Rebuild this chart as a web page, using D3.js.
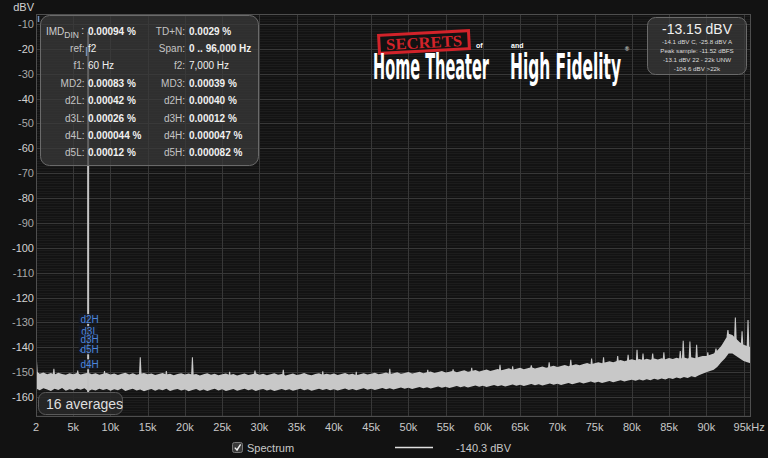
<!DOCTYPE html>
<html><head><meta charset="utf-8">
<script src="https://cdn.jsdelivr.net/npm/d3@7/dist/d3.min.js"></script>
<style>
html,body{margin:0;padding:0;background:#121212;}
svg{display:block;font-family:"Liberation Sans",Arial,sans-serif;}
</style></head>
<body>
<svg id="chart" width="768" height="458"></svg>
<script>
// ---------- DATA ----------
const xTicksKHz = [0,5,10,15,20,25,30,35,40,45,50,55,60,65,70,75,80,85,90,95];
const xTickLabels = ["2","5k","10k","15k","20k","25k","30k","35k","40k","45k","50k","55k","60k","65k","70k","75k","80k","85k","90k","95kHz"];
const yTicks = [-10,-20,-30,-40,-50,-60,-70,-80,-90,-100,-110,-120,-130,-140,-150,-160];

// spectrum envelope sampled every 0.5 kHz from 0 to 96 kHz
const stepKHz = 0.5;
const bandTopDb = [
 -149.5,-150.6,-150.1,-150.8,-150.3,-150.9,-150.2,-150.7,-151.0,-150.4,-150.8,-150.3,-150.9,-150.5,-150.2,-150.8,-150.4,-151.0,-150.6,-150.3,
 -150.9,-150.5,-151.1,-150.6,-150.2,-150.9,-150.4,-151.0,-150.6,-150.3,-150.8,-150.5,-151.1,-150.7,-150.3,-150.9,-150.6,-151.2,-150.7,-150.4,
 -150.9,-150.5,-151.0,-150.7,-151.3,-150.8,-150.4,-151.0,-150.6,-151.2,-150.8,-150.5,-151.1,-150.7,-151.3,-150.9,-150.5,-151.1,-150.8,-150.4,
 -151.0,-150.6,-151.2,-150.8,-150.4,-151.0,-150.7,-151.3,-150.9,-150.5,-151.1,-150.8,-150.3,-150.9,-151.2,-150.7,-150.4,-151.0,-150.6,-150.9,
 -150.5,-151.1,-150.7,-150.3,-150.9,-150.6,-151.2,-150.8,-150.4,-150.9,-150.6,-150.2,-150.8,-150.5,-150.1,-150.7,-150.4,-150.0,-150.6,-150.3,
 -149.9,-150.5,-150.2,-149.8,-150.4,-150.0,-149.7,-150.3,-149.9,-149.5,-150.1,-149.8,-149.4,-150.0,-149.6,-149.2,-149.8,-149.5,-149.1,-149.7,
 -149.3,-148.9,-149.5,-149.1,-148.7,-149.2,-148.8,-148.4,-149.0,-148.6,-148.2,-148.8,-148.4,-148.0,-148.5,-148.1,-147.7,-148.2,-147.8,-147.4,
 -147.9,-147.5,-147.1,-147.6,-147.2,-146.8,-147.2,-146.7,-146.3,-146.8,-146.4,-146.0,-146.4,-146.0,-145.6,-146.0,-145.5,-145.1,-145.6,-145.2,
 -144.8,-145.2,-144.7,-145.1,-144.6,-145.0,-144.5,-144.9,-144.4,-144.8,-144.3,-144.7,-144.2,-144.6,-144.1,-144.5,-144.0,-144.4,-143.9,-143.5,
 -143.5,-143.0,-142.5,-141.2,-139.5,-137.0,-134.5,-135.0,-136.5,-138.0,-139.0,-139.5,-140.0
];
const bandBottomDb = [
 -156.5,-157.2,-156.4,-156.9,-157.5,-156.6,-157.1,-156.3,-157.4,-156.8,-157.2,-156.5,-157.0,-156.4,-157.6,-156.9,-157.3,-156.6,-157.1,-156.7,
 -157.4,-156.8,-157.2,-156.5,-157.5,-157.0,-156.6,-157.3,-156.9,-157.6,-157.1,-156.7,-157.4,-156.8,-157.2,-156.6,-157.5,-157.0,-156.7,-157.3,
 -156.9,-157.6,-157.1,-156.7,-157.4,-156.9,-157.5,-157.0,-156.6,-157.3,-156.8,-157.5,-157.1,-156.7,-157.4,-157.0,-156.6,-157.2,-156.8,-157.5,
 -157.0,-156.7,-157.3,-156.9,-157.5,-157.1,-156.7,-157.2,-156.8,-157.4,-157.0,-156.6,-157.2,-156.8,-157.4,-157.0,-156.6,-157.1,-156.7,-157.2,
 -156.8,-157.3,-156.9,-156.5,-157.1,-156.7,-157.2,-156.8,-156.4,-157.0,-156.6,-157.1,-156.7,-156.3,-156.8,-156.4,-156.9,-156.5,-156.1,-156.6,
 -156.2,-156.7,-156.3,-155.9,-156.4,-156.0,-156.5,-156.1,-155.7,-156.2,-155.8,-156.3,-155.9,-155.5,-156.0,-155.6,-156.1,-155.7,-155.3,-155.8,
 -155.4,-155.9,-155.5,-155.1,-155.6,-155.2,-155.7,-155.3,-154.9,-155.4,-155.0,-155.5,-155.1,-154.7,-155.2,-154.8,-155.3,-154.9,-154.5,-155.0,
 -154.6,-155.1,-154.7,-154.3,-154.8,-154.4,-154.0,-154.5,-154.1,-153.7,-154.2,-153.8,-154.3,-153.9,-153.5,-154.0,-153.6,-153.2,-153.7,-153.3,
 -153.0,-153.4,-152.9,-153.3,-152.8,-153.2,-152.6,-153.0,-152.5,-152.9,-152.3,-152.7,-152.1,-152.5,-151.9,-152.3,-151.6,-152.0,-151.2,-150.6,
 -150.0,-149.5,-149.0,-147.8,-146.0,-144.5,-142.5,-142.5,-143.5,-144.5,-145.5,-146.0,-146.5
];
// discrete spurs poking out of the noise
const spurKHz = [0.06,2.4,5.6,9.2,14.0,17.5,21.0,26.0,29.4,33.2,38.5,43.0,47.5,52.6,56.0,58.5,62.3,64.0,66.5,68.9,71.8,74.6,76.2,78.1,79.5,80.7,81.5,82.8,84.3,86.5,86.9,87.8,88.7,90.2,91.3,92.9,93.9,94.8,95.6];
const spurDb  = [-145.3,-148.6,-149.3,-149.5,-144.0,-149.5,-144.0,-149.8,-149.3,-149.0,-149.6,-149.8,-148.6,-149.0,-148.8,-148.2,-147.0,-147.6,-147.2,-146.0,-145.0,-144.5,-144.0,-143.5,-143.0,-141.0,-142.5,-142.5,-142.0,-141.5,-137.3,-137.7,-139.0,-142.0,-140.5,-133.0,-128.0,-133.5,-129.0];
// fundamental f2
const fundKHz = 7.0;
const fundDb = -13.15;
// harmonic marker labels
const markerNames = ["d2H","d3L","d3H","d5H","d4H"];
const markerDb = [-128.6,-133.4,-136.8,-140.8,-146.8];

// info panel
const leftLabels  = ["","ref:","f1:","MD2:","d2L:","d3L:","d4L:","d5L:"];
const leftValues  = ["0.00094 %","f2","60 Hz","0.00083 %","0.00042 %","0.00026 %","0.000044 %","0.00012 %"];
const rightLabels = ["TD+N:","Span:","f2:","MD3:","d2H:","d3H:","d4H:","d5H:"];
const rightValues = ["0.0029 %","0 .. 96,000 Hz","7,000 Hz","0.00039 %","0.00040 %","0.00012 %","0.000047 %","0.000082 %"];
const leftBold  = [true,false,false,true,true,true,true,true];
const rightBold = [true,true,false,true,true,true,true,true];
// level panel
const levelMain = "-13.15 dBV";
const levelLines = ["-14.1 dBV C, -25.8 dBV A","Peak sample: -11.52 dBFS","-13.1 dBV 22 - 22k UNW","-104.6 dBV >22k"];
const averagesText = "16 averages";
const legendSeries = "Spectrum";
const legendValue = "-140.3 dBV";

// ---------- LAYOUT ----------
const svg = d3.select("#chart");
const W = 768, H = 458;
const plot = {l:36, r:751, t:14, b:417};
const x = d3.scaleLinear().domain([0,96]).range([plot.l, plot.r]);
const y = d3.scaleLinear().domain([-168,-6]).range([plot.b, plot.t]);

svg.append("rect").attr("width",W).attr("height",H).attr("fill","#121212");
svg.append("rect").attr("x",plot.l).attr("y",plot.t).attr("width",plot.r-plot.l).attr("height",plot.b-plot.t).attr("fill","#131313");

svg.append("defs").append("clipPath").attr("id","clip").append("rect")
  .attr("x",plot.l).attr("y",plot.t).attr("width",plot.r-plot.l).attr("height",plot.b-plot.t);

// minor horizontal grid (1 dB)
const gGrid = svg.append("g");
gGrid.selectAll("line.minor").data(d3.range(-167,-6,1).filter(v=>v%10!==0)).join("line")
  .attr("x1",plot.l).attr("x2",plot.r).attr("y1",d=>Math.round(y(d))+0.5).attr("y2",d=>Math.round(y(d))+0.5)
  .attr("stroke","#1c1c1c").attr("stroke-width",1);
// major horizontal
gGrid.selectAll("line.hmaj").data(yTicks).join("line")
  .attr("x1",plot.l).attr("x2",plot.r).attr("y1",d=>Math.round(y(d))+0.5).attr("y2",d=>Math.round(y(d))+0.5)
  .attr("stroke","#383838").attr("stroke-width",1);
// vertical
svg.append("g").selectAll("line").data(xTicksKHz).join("line")
  .attr("x1",d=>Math.round(x(d))+0.5).attr("x2",d=>Math.round(x(d))+0.5).attr("y1",plot.t).attr("y2",plot.b)
  .attr("stroke","#383838").attr("stroke-width",1);

// spectrum
const gSpec = svg.append("g").attr("clip-path","url(#clip)");
const specData = bandTopDb.map((t,i)=>({f:i*stepKHz, top:t, bot:bandBottomDb[i]}));
const area = d3.area().x(d=>x(d.f)).y0(d=>y(d.bot)).y1(d=>y(d.top)).curve(d3.curveLinear);
gSpec.append("path").datum(specData).attr("d",area).attr("fill","#c8c8c8");
// spurs
gSpec.selectAll("path.spur").data(spurKHz).join("path")
  .attr("d",(f,i)=>{
    const idx = Math.min(bandTopDb.length-1, Math.round(f/stepKHz));
    const base = y(bandTopDb[idx]) + 3;
    const px = x(f);
    return `M${px-1.4},${base}L${px-0.5},${y(spurDb[i])}L${px+0.5},${y(spurDb[i])}L${px+1.4},${base}Z`;
  })
  .attr("fill","#c8c8c8");
// fundamental line
gSpec.append("line").attr("x1",x(fundKHz)).attr("x2",x(fundKHz))
  .attr("y1",y(fundDb)).attr("y2",y(-158.5)).attr("stroke","#c4c4c4").attr("stroke-width",2);

// plot border
svg.append("rect").attr("x",plot.l+0.5).attr("y",plot.t+0.5).attr("width",plot.r-plot.l-1).attr("height",plot.b-plot.t-1)
  .attr("fill","none").attr("stroke","#4e4e4e").attr("stroke-width",1);

// harmonic markers
const gMk = svg.append("g");
markerNames.forEach((n,i)=>{
  const cy = y(markerDb[i]);
  gMk.append("rect").attr("x",x(fundKHz)-9.5).attr("y",cy-5).attr("width",19).attr("height",10)
    .attr("fill","#151a24").attr("opacity",0.85);
  gMk.append("text").attr("x",x(fundKHz)+1.5).attr("y",cy+3.6).attr("text-anchor","middle")
    .attr("font-size",10).attr("fill","#4d86dc").text(n);
});
gMk.append("text").attr("x",x(fundKHz)-7.5).attr("y",y(markerDb[3])+3.6).attr("font-size",8).attr("fill","#4d86dc").attr("text-anchor","middle").text("\u2039");

// y axis labels
svg.append("g").selectAll("text").data(yTicks).join("text")
  .attr("x",34).attr("y",d=>y(d)+4).attr("text-anchor","end").attr("font-size",11)
  .attr("fill",d=>(d%20===0)?"#d2d2d2":"#a8a8a8").text(d=>d);
svg.append("text").attr("x",34).attr("y",11).attr("text-anchor","end").attr("font-size",11).attr("fill","#d2d2d2").text("dBV");

// x axis labels
svg.append("g").selectAll("text").data(xTicksKHz).join("text")
  .attr("x",(d,i)=> i===xTicksKHz.length-1 ? x(d)-10 : x(d))
  .attr("y",431).attr("text-anchor",(d,i)=> i===xTicksKHz.length-1 ? "start":"middle")
  .attr("font-size",11).attr("fill","#c8c8c8").text((d,i)=>xTickLabels[i]);

// info panel
const gInfo = svg.append("g");
gInfo.append("rect").attr("x",40.5).attr("y",15.5).attr("width",218).attr("height",150).attr("rx",9)
  .attr("fill","rgb(58,58,58)").attr("fill-opacity",0.72).attr("stroke","#6a6a6a").attr("stroke-width",1);
const rowY = d3.range(8).map(i=>34.5+i*17.4);
// IMD_DIN label
const imd = gInfo.append("text").attr("x",46).attr("y",rowY[0]).attr("font-size",10).attr("fill","#cfcfcf");
imd.append("tspan").text("IMD");
imd.append("tspan").attr("font-size",8.5).attr("dy",3.5).text("DIN");
gInfo.append("text").attr("x",84).attr("y",rowY[0]-1).attr("font-size",10).attr("fill","#cfcfcf").attr("text-anchor","end").text(":");
leftLabels.forEach((t,i)=>{
  if(t) gInfo.append("text").attr("x",84.5).attr("y",rowY[i]).attr("text-anchor","end").attr("font-size",10).attr("fill","#c4c4c4").text(t);
  gInfo.append("text").attr("x",88).attr("y",rowY[i]).attr("font-size",10).attr("fill","#f0f0f0")
    .attr("font-weight",leftBold[i]?"bold":"normal").text(leftValues[i]);
});
rightLabels.forEach((t,i)=>{
  gInfo.append("text").attr("x",185).attr("y",rowY[i]).attr("text-anchor","end").attr("font-size",10).attr("fill","#c4c4c4").text(t);
  gInfo.append("text").attr("x",189).attr("y",rowY[i]).attr("font-size",10).attr("fill","#f0f0f0")
    .attr("font-weight",rightBold[i]?"bold":"normal").text(rightValues[i]);
});
// small blue ref markers
svg.append("line").attr("x1",86.5).attr("x2",86.5).attr("y1",47).attr("y2",56).attr("stroke","#6f8fb8").attr("stroke-width",1.5);
svg.append("line").attr("x1",38.5).attr("x2",38.5).attr("y1",16).attr("y2",22).attr("stroke","#6f8fb8").attr("stroke-width",1.5);

// level panel
const gLvl = svg.append("g");
gLvl.append("rect").attr("x",647.5).attr("y",17.5).attr("width",99).attr("height",57).attr("rx",8)
  .attr("fill","rgb(58,58,58)").attr("fill-opacity",0.72).attr("stroke","#6a6a6a");
gLvl.append("text").attr("x",697).attr("y",33.5).attr("text-anchor","middle").attr("font-size",14).attr("fill","#f0f0f0").text(levelMain);
levelLines.forEach((t,i)=>{
  gLvl.append("text").attr("x",697).attr("y",44+i*9.1).attr("text-anchor","middle").attr("font-size",6.2).attr("fill","#dcdcdc").text(t);
});

// averages badge
svg.append("rect").attr("x",38.5).attr("y",392.5).attr("width",84).attr("height",22).attr("rx",7)
  .attr("fill","rgb(40,40,40)").attr("fill-opacity",0.9).attr("stroke","#5a5a5a");
svg.append("text").attr("x",46).attr("y",409).attr("font-size",14).attr("fill","#dedede").text(averagesText);

// logo
const gLogo = svg.append("g");
const stamp = gLogo.append("g").attr("transform","rotate(-3,424,42)");
stamp.append("rect").attr("x",379).attr("y",33).attr("width",90).attr("height",18).attr("fill","#121212")
  .attr("stroke","#d2232a").attr("stroke-width",3);
stamp.append("text").attr("x",424).attr("y",48).attr("text-anchor","middle")
  .attr("font-family","'Liberation Serif','DejaVu Serif',serif").attr("font-weight","bold").attr("font-size",16)
  .attr("fill","#d2232a").attr("textLength",76).attr("lengthAdjust","spacingAndGlyphs").text("SECRETS");
const logoFont = "'Liberation Sans Narrow','DejaVu Sans Condensed','Liberation Sans',sans-serif";
gLogo.append("text").attr("x",373).attr("y",79).attr("font-family",logoFont).attr("font-weight","bold")
  .attr("font-size",35).attr("fill","#ffffff").attr("textLength",116).attr("lengthAdjust","spacingAndGlyphs").text("Home Theater");
gLogo.append("text").attr("x",510).attr("y",79).attr("font-family",logoFont).attr("font-weight","bold")
  .attr("font-size",35).attr("fill","#ffffff").attr("textLength",111).attr("lengthAdjust","spacingAndGlyphs").text("High Fidelity");
gLogo.append("text").attr("x",476).attr("y",48).attr("font-size",7).attr("font-weight","bold").attr("fill","#ffffff").text("of");
gLogo.append("text").attr("x",511).attr("y",48).attr("font-size",7).attr("font-weight","bold").attr("fill","#ffffff").text("and");
gLogo.append("text").attr("x",625).attr("y",51).attr("font-size",5.5).attr("fill","#ffffff").text("\u00AE");

// legend
const gLeg = svg.append("g");
gLeg.append("rect").attr("x",232.5).attr("y",442.5).attr("width",10).attr("height",10).attr("rx",2)
  .attr("fill","#3a3a3a").attr("stroke","#7a7a7a");
gLeg.append("path").attr("d","M234.8,447.6 L237,450 L240.6,444.4").attr("fill","none").attr("stroke","#f0f0f0").attr("stroke-width",1.4);
gLeg.append("text").attr("x",247).attr("y",451.5).attr("font-size",11).attr("fill","#c8c8c8").text(legendSeries);
gLeg.append("line").attr("x1",395).attr("x2",433).attr("y1",447.5).attr("y2",447.5).attr("stroke","#e0e0e0").attr("stroke-width",1.5);
gLeg.append("text").attr("x",456).attr("y",451.5).attr("font-size",11).attr("fill","#c8c8c8").text(legendValue);
</script>
</body></html>
